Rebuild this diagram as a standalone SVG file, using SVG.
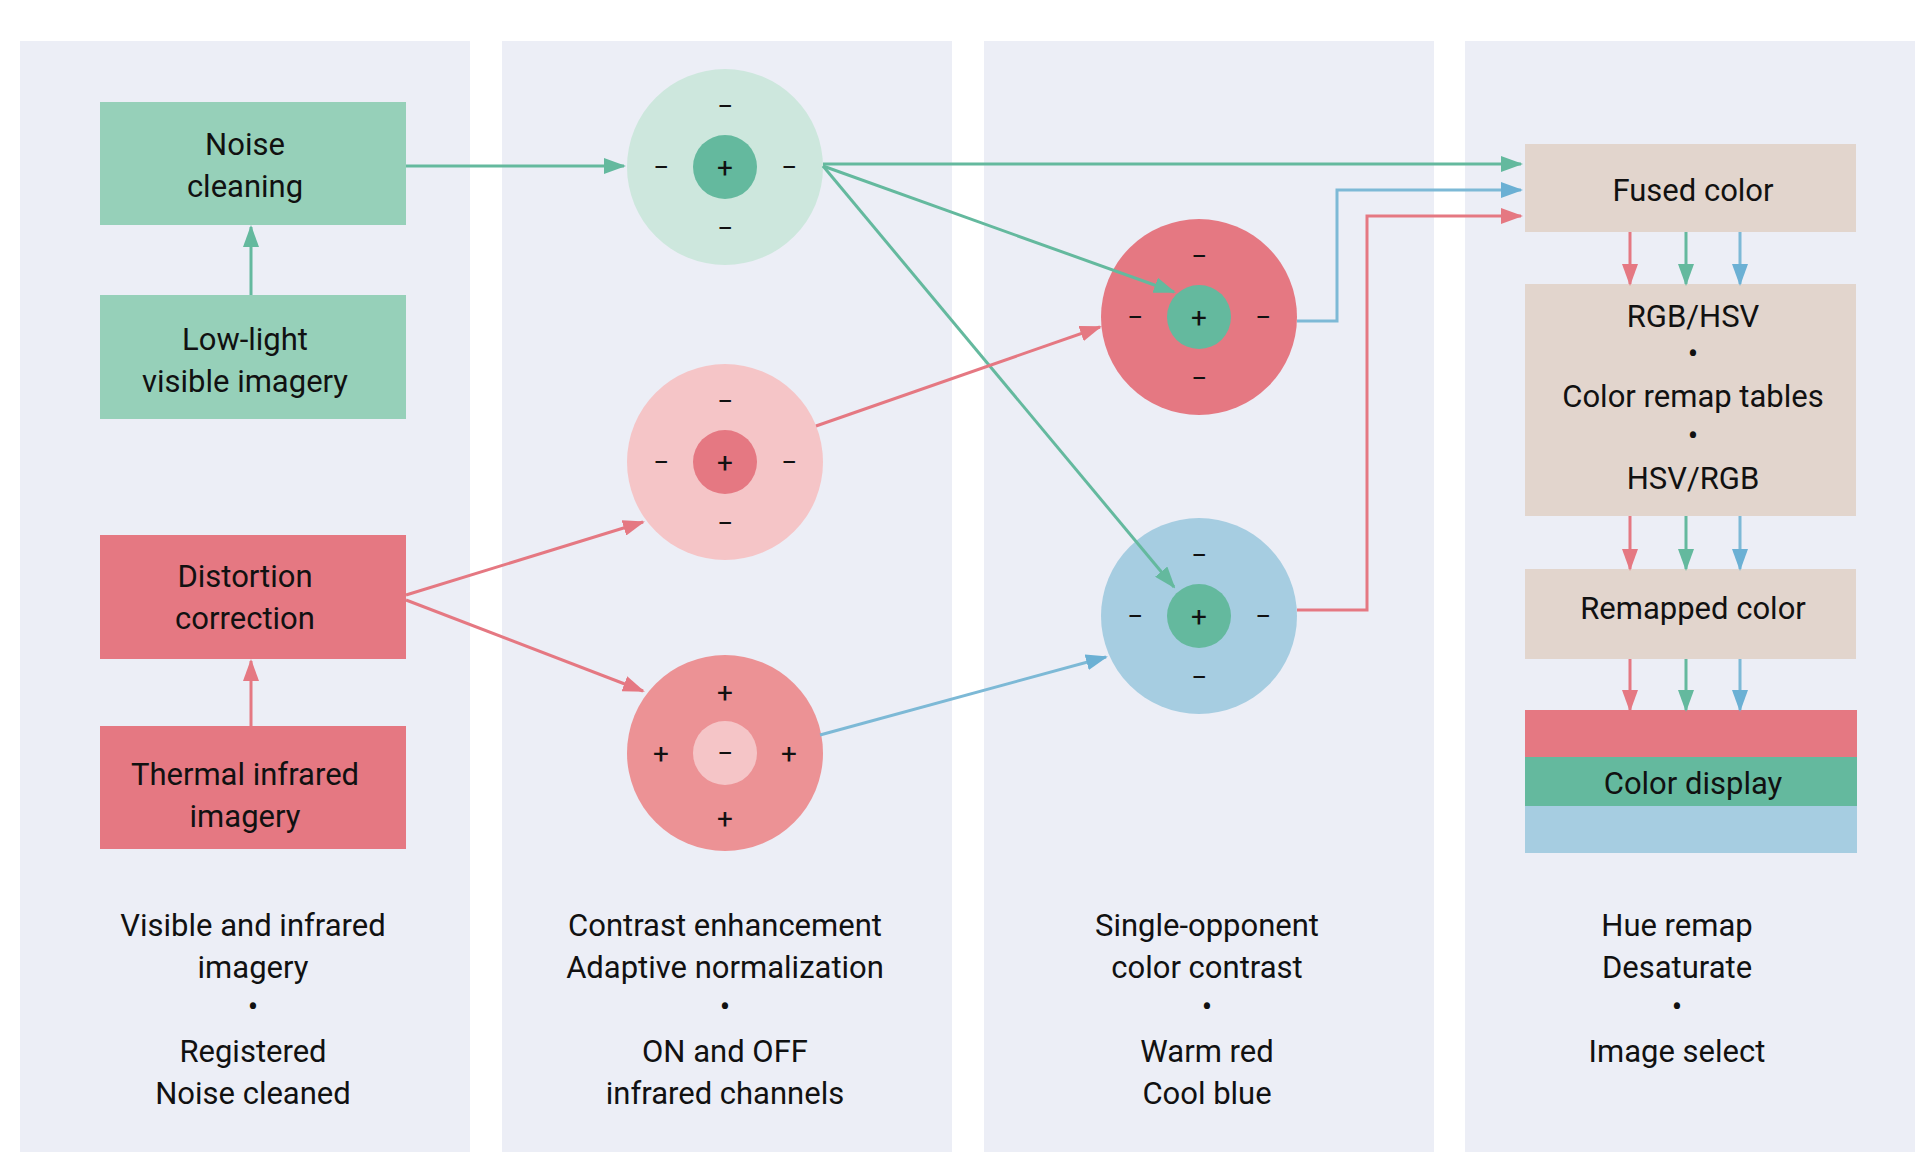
<svg xmlns="http://www.w3.org/2000/svg" width="1927" height="1155" viewBox="0 0 1927 1155">
<style>
text{font-family:Roboto,"Liberation Sans",sans-serif;font-size:31px;fill:#111;text-anchor:middle;dominant-baseline:central}
.s{font-size:28px}
.panel{fill:#ECEEF6}
.g{stroke:#64B99E}.r{stroke:#E57882}.b{stroke:#7DB9D6}
.c line,.c polyline{fill:none;stroke-width:3}
</style>
<defs>
<marker id="ag" markerUnits="userSpaceOnUse" markerWidth="22" markerHeight="16" refX="20" refY="8" orient="auto"><path d="M0,0L22,8L0,16z" fill="#64B99E"/></marker>
<marker id="ar" markerUnits="userSpaceOnUse" markerWidth="22" markerHeight="16" refX="20" refY="8" orient="auto"><path d="M0,0L22,8L0,16z" fill="#E57882"/></marker>
<marker id="ab" markerUnits="userSpaceOnUse" markerWidth="22" markerHeight="16" refX="20" refY="8" orient="auto"><path d="M0,0L22,8L0,16z" fill="#6BB0D4"/></marker>
</defs>
<rect width="1927" height="1155" fill="#fff"/>
<rect class="panel" x="20" y="41" width="450" height="1111"/>
<rect class="panel" x="502" y="41" width="450" height="1111"/>
<rect class="panel" x="984" y="41" width="450" height="1111"/>
<rect class="panel" x="1465" y="41" width="450" height="1111"/>

<g id="noise"><rect x="100" y="102" width="306" height="123" fill="#96D0B9"/><text x="245" y="144">Noise</text><text x="245" y="186">cleaning</text></g>
<g id="lowlight"><rect x="100" y="295" width="306" height="124" fill="#96D0B9"/><text x="245" y="339">Low-light</text><text x="245" y="381">visible imagery</text></g>
<g id="distortion"><rect x="100" y="535" width="306" height="124" fill="#E57882"/><text x="245" y="576">Distortion</text><text x="245" y="618">correction</text></g>
<g id="thermal"><rect x="100" y="726" width="306" height="123" fill="#E57882"/><text x="245" y="774">Thermal infrared</text><text x="245" y="816">imagery</text></g>

<g id="c1"><circle cx="725" cy="167" r="98" fill="#CDE7DD"/><circle cx="725" cy="167" r="32" fill="#64B99E"/><text class="s" x="725" y="167">+</text><text class="s" x="725" y="106">−</text><text class="s" x="725" y="228">−</text><text class="s" x="661" y="167">−</text><text class="s" x="789" y="167">−</text></g>
<g id="c2"><circle cx="725" cy="462" r="98" fill="#F5C5C7"/><circle cx="725" cy="462" r="32" fill="#E57882"/><text class="s" x="725" y="462">+</text><text class="s" x="725" y="401">−</text><text class="s" x="725" y="523">−</text><text class="s" x="661" y="462">−</text><text class="s" x="789" y="462">−</text></g>
<g id="c3"><circle cx="725" cy="753" r="98" fill="#EC9295"/><circle cx="725" cy="753" r="32" fill="#F5C5C7"/><text class="s" x="725" y="753">−</text><text class="s" x="725" y="692">+</text><text class="s" x="725" y="818">+</text><text class="s" x="661" y="753">+</text><text class="s" x="789" y="753">+</text></g>
<g id="c4"><circle cx="1199" cy="317" r="98" fill="#E57882"/><circle cx="1199" cy="317" r="32" fill="#64B99E"/><text class="s" x="1199" y="317">+</text><text class="s" x="1199" y="256">−</text><text class="s" x="1199" y="378">−</text><text class="s" x="1135" y="317">−</text><text class="s" x="1263" y="317">−</text></g>
<g id="c5"><circle cx="1199" cy="616" r="98" fill="#A6CDE1"/><circle cx="1199" cy="616" r="32" fill="#64B99E"/><text class="s" x="1199" y="616">+</text><text class="s" x="1199" y="555">−</text><text class="s" x="1199" y="677">−</text><text class="s" x="1135" y="616">−</text><text class="s" x="1263" y="616">−</text></g>

<g id="fused"><rect x="1525" y="144" width="331" height="88" fill="#E2D5CD"/><text x="1693" y="190">Fused color</text></g>
<g id="rgb"><rect x="1525" y="284" width="331" height="232" fill="#E2D5CD"/><text x="1693" y="316">RGB/HSV</text><text x="1693" y="353">•</text><text x="1693" y="396">Color remap tables</text><text x="1693" y="435">•</text><text x="1693" y="478">HSV/RGB</text></g>
<g id="remapped"><rect x="1525" y="569" width="331" height="90" fill="#E2D5CD"/><text x="1693" y="608">Remapped color</text></g>
<g id="display"><rect x="1525" y="710" width="332" height="48" fill="#E57882"/><rect x="1525" y="757" width="332" height="49" fill="#64B99E"/><rect x="1525" y="806" width="332" height="47" fill="#A6CDE1"/><text x="1693" y="783">Color display</text></g>

<g id="labels">
<text x="253" y="925">Visible and infrared</text><text x="253" y="967">imagery</text><text x="253" y="1006">•</text><text x="253" y="1051">Registered</text><text x="253" y="1093">Noise cleaned</text>
<text x="725" y="925">Contrast enhancement</text><text x="725" y="967">Adaptive normalization</text><text x="725" y="1006">•</text><text x="725" y="1051">ON and OFF</text><text x="725" y="1093">infrared channels</text>
<text x="1207" y="925">Single-opponent</text><text x="1207" y="967">color contrast</text><text x="1207" y="1006">•</text><text x="1207" y="1051">Warm red</text><text x="1207" y="1093">Cool blue</text>
<text x="1677" y="925">Hue remap</text><text x="1677" y="967">Desaturate</text><text x="1677" y="1006">•</text><text x="1677" y="1051">Image select</text>
</g>

<g id="connectors" class="c">
<line class="g" x1="406" y1="166" x2="624" y2="166" marker-end="url(#ag)"/>
<line class="g" x1="251" y1="295" x2="251" y2="227" marker-end="url(#ag)"/>
<line class="r" x1="251" y1="726" x2="251" y2="661" marker-end="url(#ar)"/>
<line class="r" x1="406" y1="595" x2="643" y2="522" marker-end="url(#ar)"/>
<line class="r" x1="406" y1="600" x2="643" y2="691" marker-end="url(#ar)"/>
<line class="g" x1="823" y1="164" x2="1521" y2="164" marker-end="url(#ag)"/>
<line class="g" x1="823" y1="166" x2="1174" y2="292" marker-end="url(#ag)"/>
<line class="g" x1="823" y1="166" x2="1174" y2="587" marker-end="url(#ag)"/>
<line class="r" x1="816" y1="426" x2="1100" y2="327" marker-end="url(#ar)"/>
<line class="b" x1="820" y1="735" x2="1106" y2="657" marker-end="url(#ab)"/>
<polyline class="b" points="1297,321 1337,321 1337,190 1521,190" marker-end="url(#ab)"/>
<polyline class="r" points="1297,610 1367,610 1367,216 1521,216" marker-end="url(#ar)"/>
<line class="r" x1="1630" y1="232" x2="1630" y2="284" marker-end="url(#ar)"/>
<line class="g" x1="1686" y1="232" x2="1686" y2="284" marker-end="url(#ag)"/>
<line class="b" x1="1740" y1="232" x2="1740" y2="284" marker-end="url(#ab)"/>
<line class="r" x1="1630" y1="516" x2="1630" y2="569" marker-end="url(#ar)"/>
<line class="g" x1="1686" y1="516" x2="1686" y2="569" marker-end="url(#ag)"/>
<line class="b" x1="1740" y1="516" x2="1740" y2="569" marker-end="url(#ab)"/>
<line class="r" x1="1630" y1="659" x2="1630" y2="710" marker-end="url(#ar)"/>
<line class="g" x1="1686" y1="659" x2="1686" y2="710" marker-end="url(#ag)"/>
<line class="b" x1="1740" y1="659" x2="1740" y2="710" marker-end="url(#ab)"/>
</g>
</svg>
